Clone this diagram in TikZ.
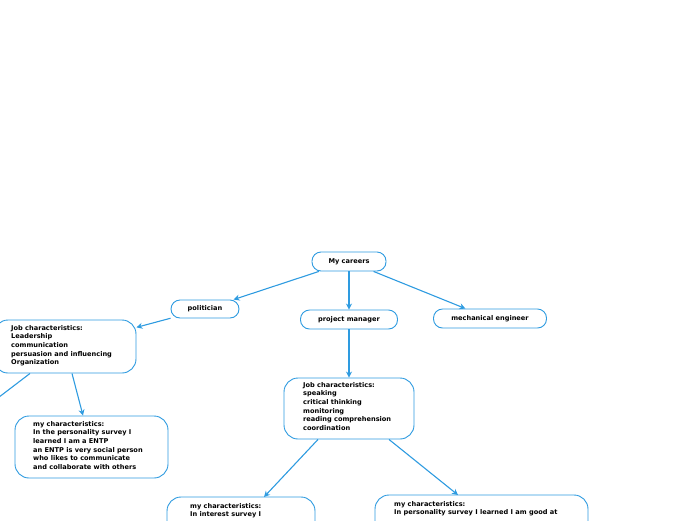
\documentclass[tikz,border=0pt]{standalone}
\usepackage{fontspec}
\setmainfont{DejaVu Sans}
\usetikzlibrary{arrows.meta}
\definecolor{ln}{HTML}{2E9BE0}
\tikzset{
  box/.style={draw=ln, line width=0.9pt, rounded corners=9pt, fill=white, font=\bfseries\fontsize{6.6}{8.6}\selectfont, inner sep=0pt, anchor=center},
  lbl/.style={font=\bfseries\fontsize{6.6}{8.6}\selectfont, align=left, anchor=north west, inner sep=0pt},
  arr/.style={draw=ln, line width=1.1pt, -{Stealth[length=6pt,width=6pt]}},
}
\begin{document}
\begin{tikzpicture}[x=1pt,y=-1pt]
\useasboundingbox (0,0) rectangle (696,520);
\clip (0,0) rectangle (696,520);
\node[box, minimum width=74pt, minimum height=19pt] (root) at (349,261.5) {My careers};
\node[box, minimum width=68pt, minimum height=18pt] (pol) at (205,309) {politician};
\node[box, minimum width=97pt, minimum height=19pt] (pm) at (349,319.5) {project manager};
\node[box, minimum width=113pt, minimum height=19pt] (me) at (490,318.5) {mechanical engineer};
\node[box, minimum width=142pt, minimum height=53pt, rounded corners=14pt] (jl) at (65,346.5) {};
\node[lbl] at (11,325) {Job characteristics:\\Leadership\\communication\\persuasion and influencing\\Organization};
\node[box, minimum width=153pt, minimum height=62pt, rounded corners=14pt] (ml) at (91.5,447) {};
\node[lbl] at (33,421) {my characteristics:\\In the personality survey I\\learned I am a ENTP\\an ENTP is very social person\\who likes to communicate\\and collaborate with others};
\node[box, minimum width=130pt, minimum height=61pt, rounded corners=14pt] (jm) at (349,408.5) {};
\node[lbl] at (303,382) {Job characteristics:\\speaking\\critical thinking\\monitoring\\reading comprehension\\coordination};
\node[box, minimum width=148pt, minimum height=60pt, rounded corners=14pt] (mb) at (241,527) {};
\node[lbl] at (190,503) {my characteristics:\\In interest survey I};
\node[box, minimum width=213pt, minimum height=60pt, rounded corners=14pt] (mr) at (481.5,525) {};
\node[lbl] at (394,501) {my characteristics:\\In personality survey I learned I am good at};
\coordinate (off) at (-10,404);
\draw[arr] (root) -- (pol);
\draw[arr] (root) -- (pm);
\draw[arr] (root) -- (me);
\draw[arr] (pol) -- (jl);
\draw[arr] (jl.south -| 72,0) -- (ml.north -| 83,0);
\draw[draw=ln, line width=1.1pt] (jl.south -| 30,0) -- (off);
\draw[arr] (pm) -- (jm);
\draw[arr] (jm.south -| 318,0) -- (264,497);
\draw[arr] (jm.south -| 389,0) -- (458,495);
\end{tikzpicture}
\end{document}
